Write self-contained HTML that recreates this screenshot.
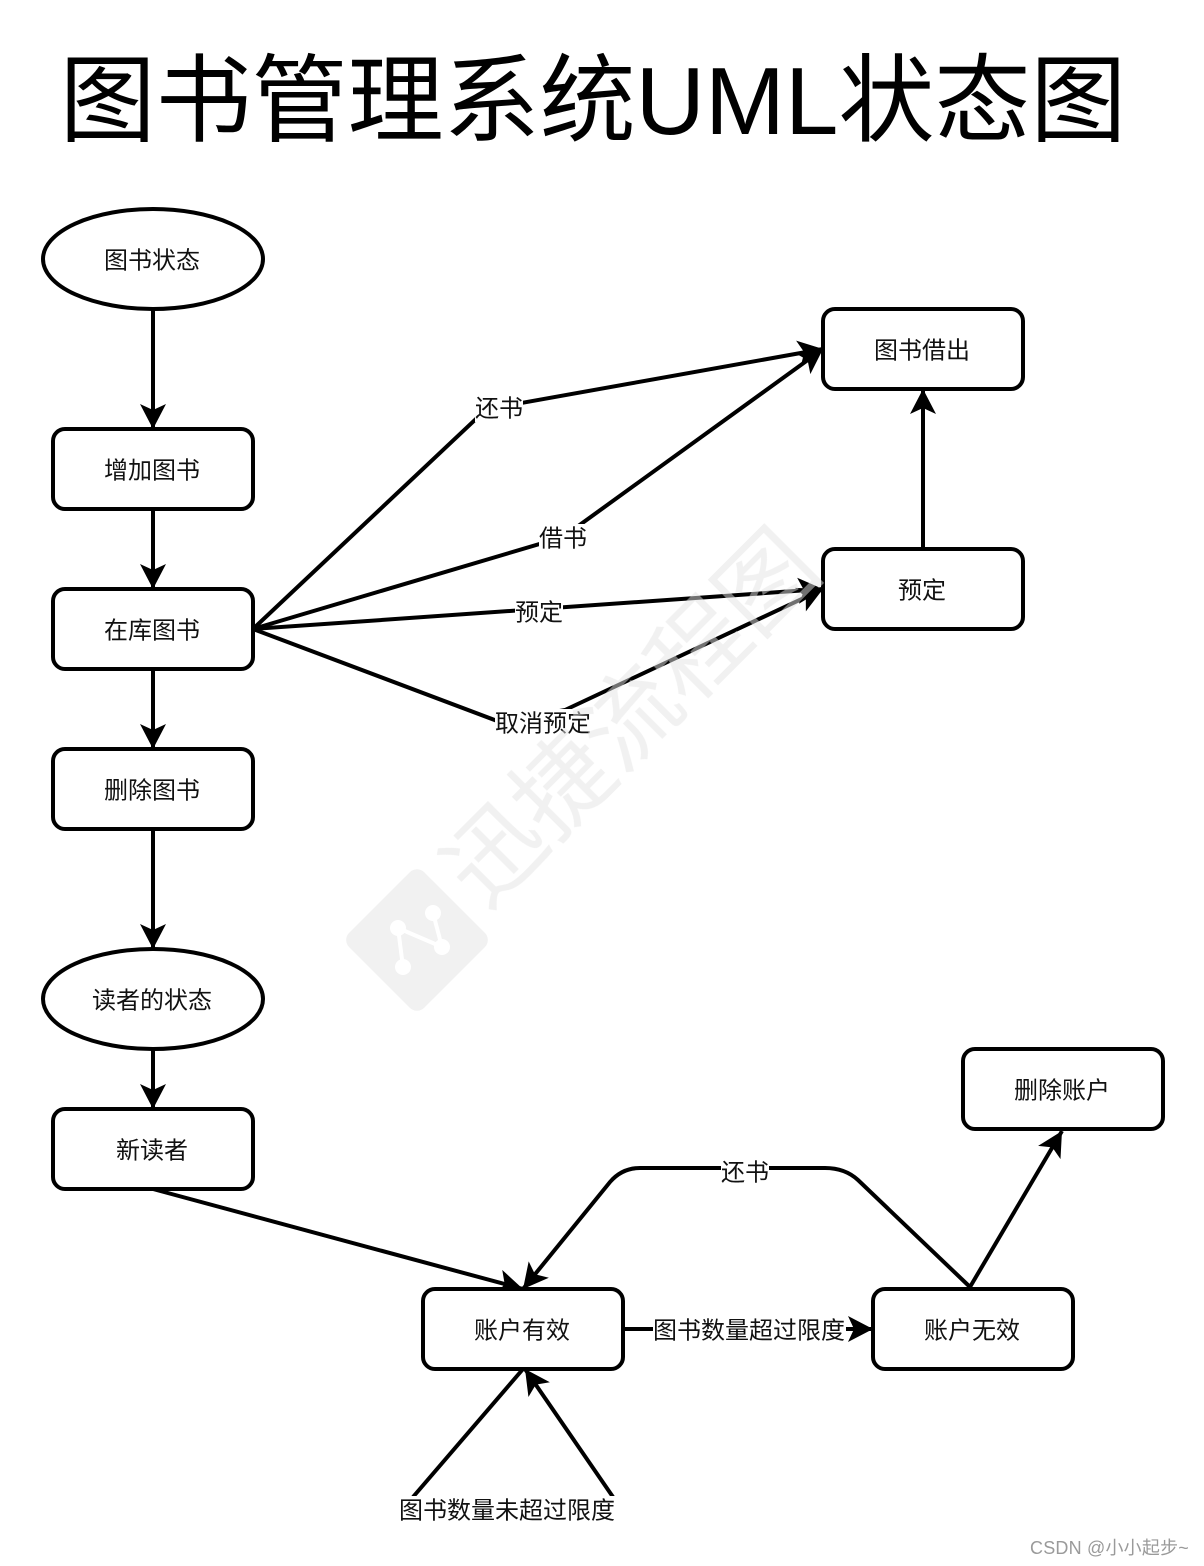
<!DOCTYPE html>
<html lang="zh">
<head>
<meta charset="utf-8">
<title>图书管理系统UML状态图</title>
<style>
html,body{margin:0;padding:0;background:#fff;width:1204px;height:1566px;overflow:hidden}
svg{display:block}
text{font-family:"Liberation Sans","Noto Sans CJK SC",sans-serif;fill:#111}
.t{font-size:24px;text-anchor:middle;dominant-baseline:central}
.n{fill:#fff;stroke:#000;stroke-width:4}
.e{fill:none;stroke:#000;stroke-width:4;marker-end:url(#a)}
.p{fill:none;stroke:#000;stroke-width:4}
.b{fill:#fff}
</style>
</head>
<body>
<svg xmlns="http://www.w3.org/2000/svg" width="1204" height="1566" viewBox="0 0 1204 1566">
<defs>
<marker id="a" markerUnits="userSpaceOnUse" markerWidth="28" markerHeight="28" refX="26" refY="14" orient="auto" viewBox="0 0 28 28">
<path d="M26 14 L1 1 L7 14 L1 27 Z" fill="#000"/>
</marker>
</defs>

<text x="593" y="134" style="font-size:96px;text-anchor:middle;fill:#000">图书管理系统UML状态图</text>

<!-- connectors -->
<path class="e" d="M153 309V429"/>
<path class="e" d="M153 509V589"/>
<path class="e" d="M153 669V749"/>
<path class="e" d="M153 829V949"/>
<path class="e" d="M153 1049V1109"/>
<path class="e" d="M153 1189L523 1289"/>
<path class="e" d="M923 549V389"/>
<path class="e" d="M253 629L478 417L499 407L823 349"/>
<path class="e" d="M253 629L563 537L823 349"/>
<path class="e" d="M253 629L823 589"/>
<path class="e" d="M253 629L500 722L565 710L823 589"/>
<path class="e" d="M623 1329H873"/>
<path class="e" d="M970 1287L1062 1131"/>
<path class="e" d="M970 1287L858 1180Q845 1168 825 1168H640Q622 1168 610 1182L523 1289"/>
<path class="p" d="M413 1497L523 1369"/>
<path class="e" d="M613 1497L525 1369"/>

<!-- nodes -->
<ellipse class="n" cx="153" cy="259" rx="110" ry="50"/>
<rect class="n" x="53" y="429" width="200" height="80" rx="12"/>
<rect class="n" x="53" y="589" width="200" height="80" rx="12"/>
<rect class="n" x="53" y="749" width="200" height="80" rx="12"/>
<ellipse class="n" cx="153" cy="999" rx="110" ry="50"/>
<rect class="n" x="53" y="1109" width="200" height="80" rx="12"/>
<rect class="n" x="823" y="309" width="200" height="80" rx="12"/>
<rect class="n" x="823" y="549" width="200" height="80" rx="12"/>
<rect class="n" x="423" y="1289" width="200" height="80" rx="12"/>
<rect class="n" x="873" y="1289" width="200" height="80" rx="12"/>
<rect class="n" x="963" y="1049" width="200" height="80" rx="12"/>

<text class="t" x="152" y="261">图书状态</text>
<text class="t" x="152" y="471">增加图书</text>
<text class="t" x="152" y="631">在库图书</text>
<text class="t" x="152" y="791">删除图书</text>
<text class="t" x="152" y="1001">读者的状态</text>
<text class="t" x="152" y="1151">新读者</text>
<text class="t" x="922" y="351">图书借出</text>
<text class="t" x="922" y="591">预定</text>
<text class="t" x="522" y="1331">账户有效</text>
<text class="t" x="972" y="1331">账户无效</text>
<text class="t" x="1062" y="1091">删除账户</text>

<!-- edge labels -->
<rect class="b" x="475" y="394" width="48" height="28"/>
<text class="t" x="499" y="409">还书</text>
<rect class="b" x="539" y="524" width="48" height="28"/>
<text class="t" x="563" y="539">借书</text>
<rect class="b" x="515" y="598" width="48" height="28"/>
<text class="t" x="539" y="613">预定</text>
<rect class="b" x="495" y="709" width="96" height="28"/>
<text class="t" x="543" y="724">取消预定</text>
<rect class="b" x="721" y="1158" width="48" height="28"/>
<text class="t" x="745" y="1173">还书</text>
<rect class="b" x="653" y="1316" width="193" height="28"/>
<text class="t" x="749" y="1331">图书数量超过限度</text>
<rect class="b" x="399" y="1496" width="216" height="28"/>
<text class="t" x="507" y="1511">图书数量未超过限度</text>

<!-- watermark -->
<g opacity="0.5">
<text x="631" y="751" transform="rotate(-45 631 718)" style="font-size:96px;text-anchor:middle;fill:#e2e2e2">迅捷流程图</text>
<rect x="364" y="887" width="106" height="106" rx="10" transform="rotate(45 417 940)" fill="#e2e2e2"/>
<g stroke="#fff" stroke-width="4" fill="#fff">
<path d="M398 928L403 967M398 928L442 947M433 913L442 947" fill="none"/>
<circle cx="398" cy="928" r="6"/>
<circle cx="403" cy="967" r="6"/>
<circle cx="433" cy="913" r="6"/>
<circle cx="442" cy="947" r="6"/>
</g>
</g>

<text x="1030" y="1554" style="font-size:18px;letter-spacing:.2px;fill:#9a9a9a">CSDN @小小起步~</text>
</svg>
</body>
</html>
